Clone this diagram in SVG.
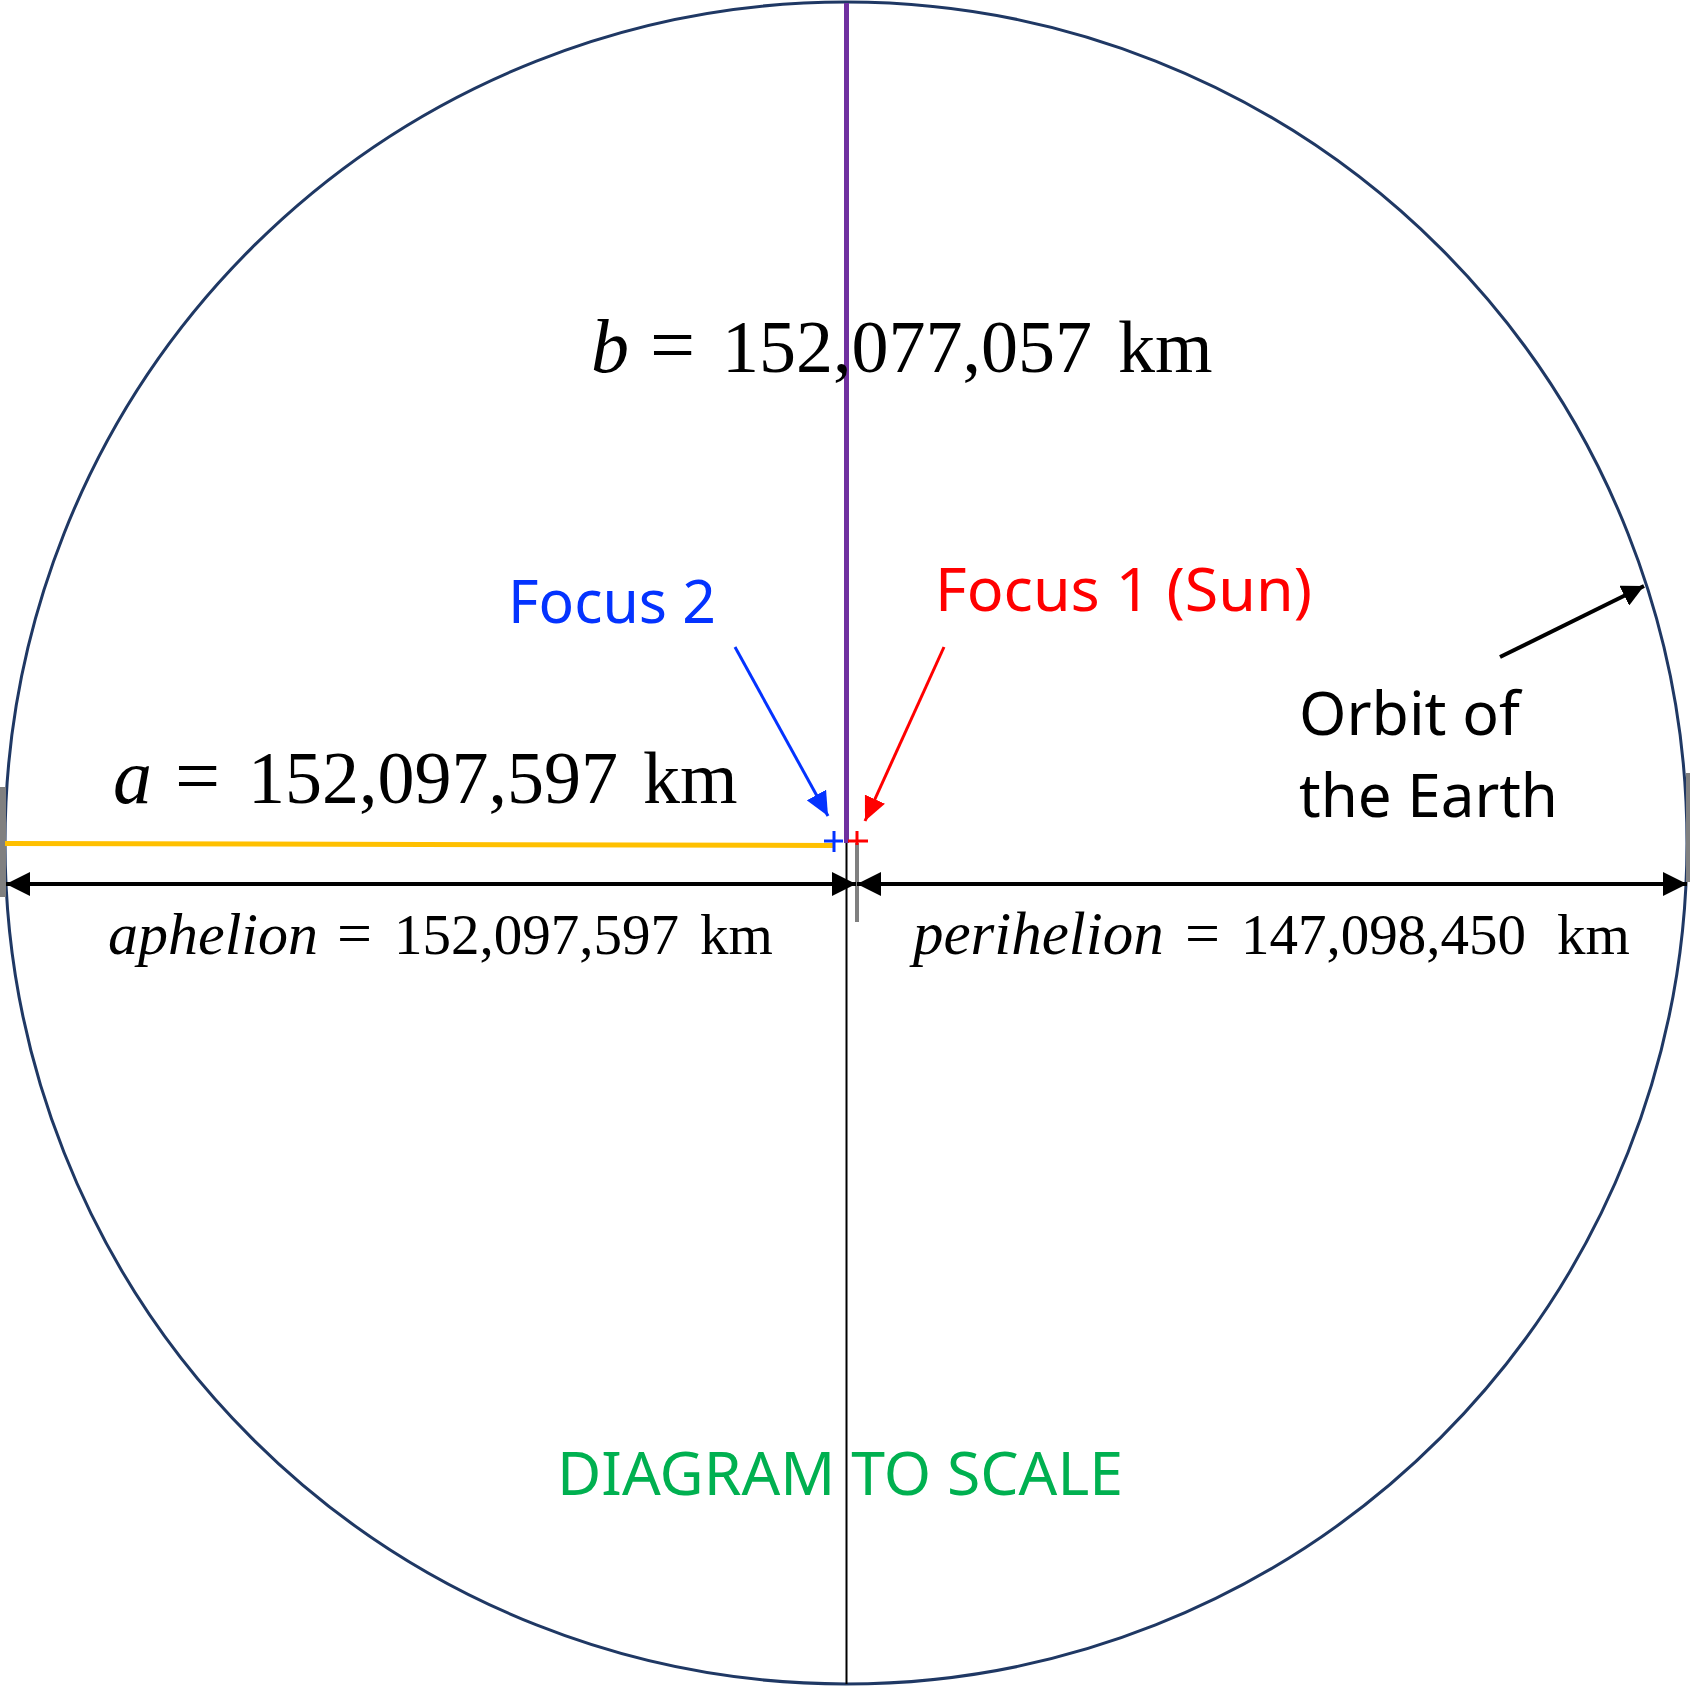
<svg xmlns="http://www.w3.org/2000/svg" width="1690" height="1686" viewBox="0 0 1690 1686">
<style>
.math{font-family:"Liberation Serif","DejaVu Serif",serif;fill:#000}
.sans{font-family:"Noto Sans","Open Sans","Liberation Sans",sans-serif}
.it{font-style:italic}
</style>
<defs>
<marker id="ahBlack" markerUnits="userSpaceOnUse" markerWidth="26" markerHeight="24" refX="24" refY="12" orient="auto"><path d="M0,0 L24,12 L0,24 z" fill="#000"/></marker>
<marker id="ahOrbit" markerUnits="userSpaceOnUse" markerWidth="24" markerHeight="22" refX="22" refY="11" orient="auto"><path d="M0,0 L22,11 L0,22 z" fill="#000"/></marker>
<marker id="ahBlue" markerUnits="userSpaceOnUse" markerWidth="26" markerHeight="22" refX="24" refY="11" orient="auto"><path d="M0,0 L24,11 L0,22 z" fill="#0433ff"/></marker>
<marker id="ahRed" markerUnits="userSpaceOnUse" markerWidth="26" markerHeight="22" refX="24" refY="11" orient="auto"><path d="M0,0 L24,11 L0,22 z" fill="#ff0000"/></marker>
</defs>
<rect x="0" y="0" width="1690" height="1686" fill="#fff"/>
<g id="orbit">
<ellipse cx="846" cy="843" rx="841" ry="841" fill="none" stroke="#1f3864" stroke-width="3"/>
</g>
<g id="edge-marks">
<rect x="0" y="787" width="6" height="110" fill="#808080"/>
<rect x="1686" y="773" width="4" height="109" fill="#808080"/>
</g>
<g id="connectors">
<line x1="846.5" y1="843" x2="846.5" y2="1684" stroke="#000" stroke-width="2"/>
<line x1="846.5" y1="3" x2="846.5" y2="843" stroke="#7030a0" stroke-width="5"/>
<line x1="5" y1="843.5" x2="833" y2="845.5" stroke="#ffc000" stroke-width="5"/>
<line x1="857" y1="843" x2="857" y2="922" stroke="#808080" stroke-width="4"/>
<line x1="846" y1="884" x2="6" y2="884" stroke="#000" stroke-width="4" marker-end="url(#ahBlack)"/>
<line x1="846" y1="884" x2="856" y2="884" stroke="#000" stroke-width="4" marker-end="url(#ahBlack)"/>
<line x1="870" y1="884" x2="1687" y2="884" stroke="#000" stroke-width="4" marker-end="url(#ahBlack)"/>
<line x1="870" y1="884" x2="857" y2="884" stroke="#000" stroke-width="4" marker-end="url(#ahBlack)"/>
<line x1="1500" y1="657" x2="1644" y2="586" stroke="#000" stroke-width="4" marker-end="url(#ahOrbit)"/>
<line x1="735" y1="647" x2="828" y2="816" stroke="#0433ff" stroke-width="3" marker-end="url(#ahBlue)"/>
<line x1="944" y1="647" x2="865" y2="821" stroke="#ff0000" stroke-width="3" marker-end="url(#ahRed)"/>
</g>
<g id="focus2-mark">
<line x1="824" y1="841" x2="843" y2="841" stroke="#0433ff" stroke-width="3"/>
<line x1="834" y1="831" x2="834" y2="852" stroke="#0433ff" stroke-width="3"/>
</g>
<g id="focus1-mark">
<line x1="848" y1="841" x2="868" y2="841" stroke="#ff0000" stroke-width="3"/>
<line x1="857" y1="831" x2="857" y2="845" stroke="#ff0000" stroke-width="3"/>
</g>
<g id="label-b">
<text class="math" y="372" font-size="74"><tspan class="it" x="591" font-size="76">b</tspan><tspan x="650" font-size="80">=</tspan><tspan x="722">152,077,057</tspan><tspan x="1118">km</tspan></text>
</g>
<g id="label-a">
<text class="math" y="803" font-size="74"><tspan class="it" x="113" font-size="78">a</tspan><tspan x="175" font-size="80">=</tspan><tspan x="248">152,097,597</tspan><tspan x="643">km</tspan></text>
</g>
<g id="label-aphelion">
<text class="math" y="954" font-size="57"><tspan class="it" x="108" font-size="60">aphelion</tspan><tspan x="337" font-size="62">=</tspan><tspan x="394">152,097,597</tspan><tspan x="700">km</tspan></text>
</g>
<g id="label-perihelion">
<text class="math" y="954" font-size="57"><tspan class="it" x="913" font-size="61">perihelion</tspan><tspan x="1185" font-size="62">=</tspan><tspan x="1241">147,098,450</tspan><tspan x="1557">km</tspan></text>
</g>
<g id="label-focus2">
<text class="sans" x="508" y="623" font-size="60" fill="#0433ff" textLength="208" lengthAdjust="spacingAndGlyphs">Focus 2</text>
</g>
<g id="label-focus1">
<text class="sans" x="935" y="611" font-size="60" fill="#ff0000" textLength="377" lengthAdjust="spacingAndGlyphs">Focus 1 (Sun)</text>
</g>
<g id="label-orbit">
<text class="sans" x="1299" y="735" font-size="60" fill="#000" textLength="221" lengthAdjust="spacingAndGlyphs">Orbit of</text>
<text class="sans" x="1299" y="817" font-size="60" fill="#000" textLength="259" lengthAdjust="spacingAndGlyphs">the Earth</text>
</g>
<g id="label-scale">
<text class="sans" x="557" y="1495" font-size="60" fill="#00b050" textLength="566" lengthAdjust="spacingAndGlyphs">DIAGRAM TO SCALE</text>
</g>
</svg>
